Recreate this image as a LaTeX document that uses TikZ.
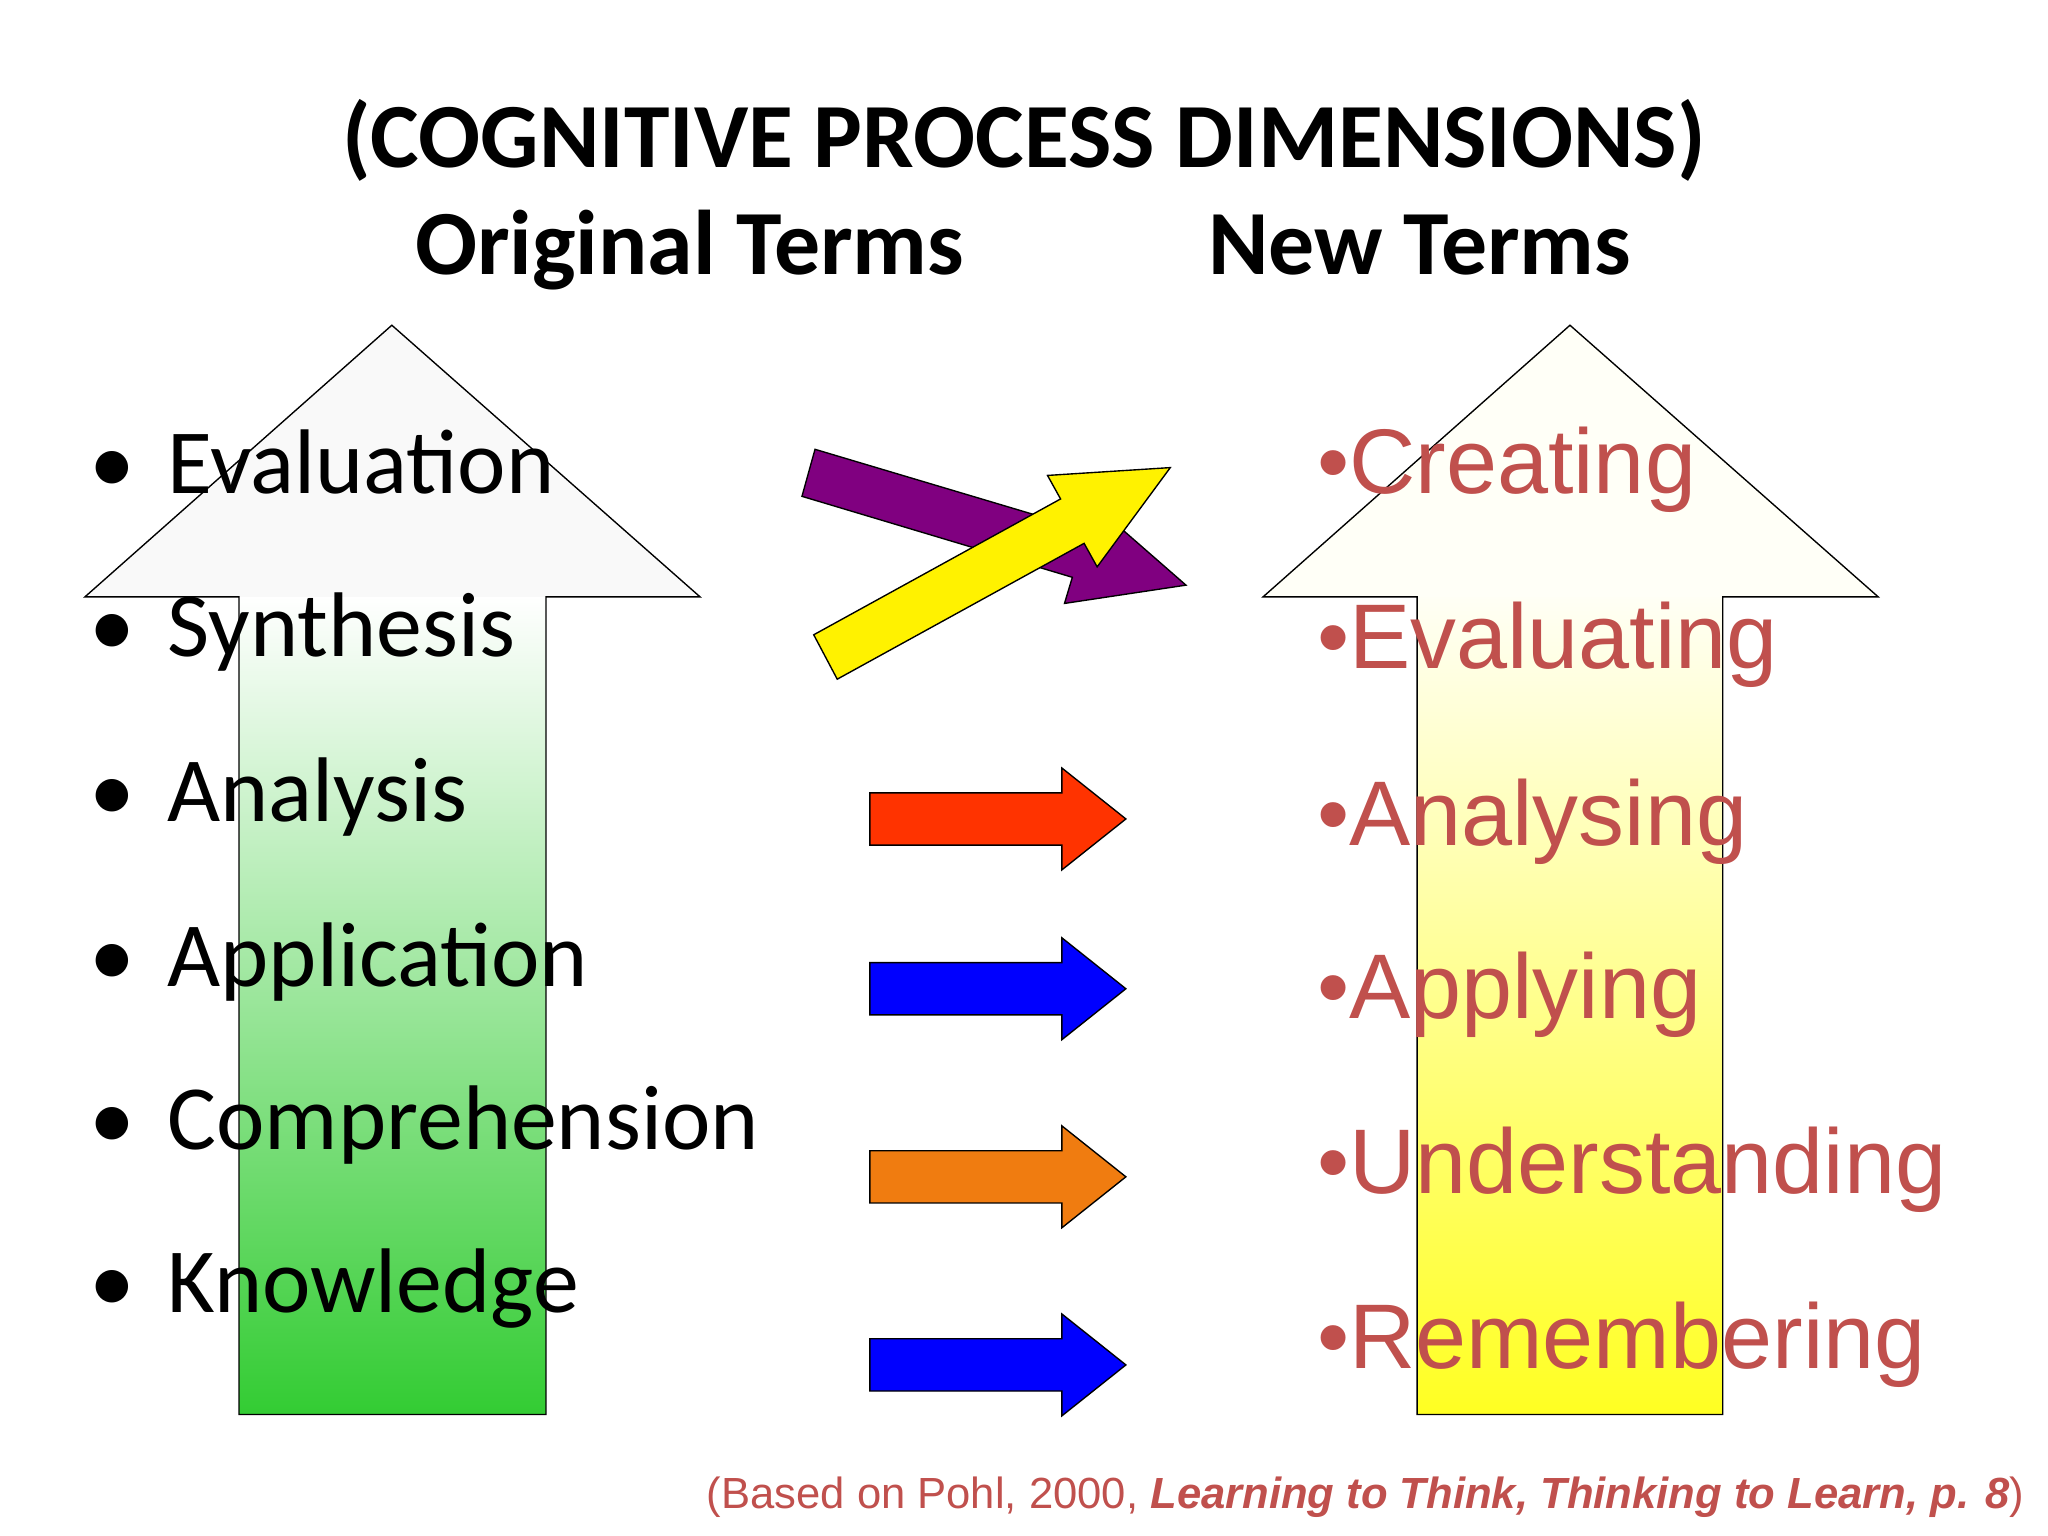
\documentclass[tikz,border=0pt]{standalone}
\usepackage{fontspec}
\setmainfont{Carlito}
\newfontfamily\arialf{Liberation Sans}
\definecolor{newred}{HTML}{C0504D}
\begin{document}
\begin{tikzpicture}[x=0.02cm,y=-0.02cm,
  lt/.style={anchor=base west,font=\fontsize{40}{48}\selectfont,inner sep=0},
  rt/.style={anchor=base west,font=\arialf\fontsize{40}{48}\selectfont,text=newred,inner sep=0},
  hd/.style={anchor=base,font=\bfseries\fontsize{40}{48}\selectfont,inner sep=0},
  fat/.style={draw=black,line width=0.6pt}]
\useasboundingbox (0,0) rectangle (1568,1176);
% left arrow
\shade[top color=white,bottom color={rgb,255:red,51;green,204;blue,51}] (183,457) rectangle (418,1083);
\fill[gray!5] (300,249)--(536,457)--(65,457)--cycle;
\draw[line width=0.6pt] (300,249)--(536,457)--(418,457)--(418,1083)--(183,1083)--(183,457)--(65,457)--cycle;
% right arrow
\shade[top color={rgb,255:red,255;green,255;blue,245},bottom color={rgb,255:red,255;green,255;blue,34}] (1085,457) rectangle (1319,1083);
\fill[yellow!3] (1202,249)--(1438,457)--(967,457)--cycle;
\draw[line width=0.6pt] (1202,249)--(1438,457)--(1319,457)--(1319,1083)--(1085,1083)--(1085,457)--(967,457)--cycle;
% titles
\node[hd] (t) at (784,128) {(COGNITIVE PROCESS DIMENSIONS)};
\node[hd] (o) at (528,210) {Original Terms};
\node[hd] (n) at (1087,210) {New Terms};
% left list
\foreach \y/\t in {378/Evaluation,503/Synthesis,629/Analysis,755/Application,880/Comprehension,1005/Knowledge}{
  \node[lt] at (68,\y) {•};
  \node[lt] at (128,\y) {\t};
}
% right list
\foreach \y/\t in {378/Creating,512/Evaluating,647/Analysing,780/Applying,914/Understanding,1048/Remembering}{
  \node[rt] at (1008,\y) {•\t};
}
% straight arrows
\foreach \c/\y in {{rgb,255:red,255;green,51;blue,0}/627,{rgb,255:red,0;green,0;blue,255}/757,{rgb,255:red,240;green,124;blue,16}/901,{rgb,255:red,0;green,0;blue,255}/1045}{
  \filldraw[fat,fill={\c}] (666,\y-20)--(813,\y-20)--(813,\y-39)--(862,\y)--(813,\y+39)--(813,\y+20)--(666,\y+20)--cycle;
}
% purple
\filldraw[fat,fill={rgb,255:red,128;green,0;blue,128}] (624,344)--(832,406)--(837,386)--(908,448)--(815,462)--(821,442)--(614,380)--cycle;
% yellow
\filldraw[fat,fill=yellow] (641,520)--(830,416)--(840,434)--(896,358)--(802,364)--(812,382)--(623,486)--cycle;
% footer
\node[anchor=base east,inner sep=0,font=\arialf\fontsize{19}{22}\selectfont,text=newred] (f) at (1550,1155) {(Based on Pohl, 2000, \textbf{\textit{Learning to Think, Thinking to Learn, p. 8}})};
\end{tikzpicture}
\end{document}
